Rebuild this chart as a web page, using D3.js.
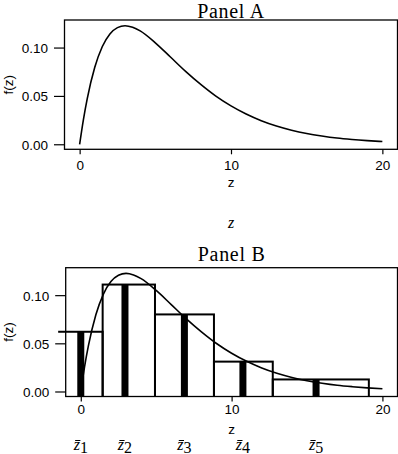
<!DOCTYPE html>
<html>
<head>
<meta charset="utf-8">
<script src="https://cdn.jsdelivr.net/npm/d3@7"></script>
<style>
  body { margin: 0; background: #fff; }
  .tick text, .axisText { font-family: "Liberation Sans", Arial, sans-serif; font-size: 13.5px; fill: #000; }
  .title { font-family: "Liberation Serif", "Times New Roman", serif; font-size: 20px; letter-spacing: 0.7px; fill: #000; }
  .serifItalic { font-family: "Liberation Serif", "Times New Roman", serif; font-style: italic; font-size: 16px; fill: #000; }
</style>
</head>
<body>
<div id="chart"></div>
<script>
// density curve, values
const curveZ = [0, 0.25, 0.5, 1, 1.5, 2, 2.5, 3, 3.5, 4, 5, 6, 7, 8, 9, 10, 11, 12, 13, 14, 15, 16, 17, 18, 19, 20];
const curveF = [0, 0.0256, 0.047, 0.0796, 0.1011, 0.1141, 0.1206, 0.1226, 0.121, 0.1172, 0.1049, 0.0902, 0.0754, 0.0619, 0.0498, 0.0397, 0.0313, 0.0244, 0.0189, 0.0146, 0.0112, 0.0086, 0.0065, 0.005, 0.0038, 0.0028];

// Panel B bins (edges in z) and their heights
const binEdges = [-3, 1.45, 4.92, 8.83, 12.73, 19.1];
const binHeights = [0.062, 0.111, 0.080, 0.031, 0.0125];
// representative points z-bar
const zBar = [0, 2.93, 6.87, 10.75, 15.6];
const zBarLabels = ["1", "2", "3", "4", "5"];

const xTicks = [0, 10, 20];
const yTicks = [0, 0.05, 0.10];

const width = 398, height = 454;
const svg = d3.select('#chart').append('svg')
    .attr('width', width)
    .attr('height', height);

const points = curveZ.map((z, i) => ({z: z, f: curveF[i]}));

function drawPanel(cfg) {
    const x = d3.scaleLinear().domain([-1, 21]).range([cfg.left, cfg.right]);
    const y = d3.scaleLinear().domain([-0.0052, 0.1285]).range([cfg.bottom, cfg.top]);
    const g = svg.append('g');

    // y axis
    const yAxis = d3.axisLeft(y).tickValues(yTicks).tickFormat(d3.format('.2f'))
        .tickSize(10.5).tickPadding(6);
    g.append('g').attr('transform', `translate(${cfg.left},0)`).call(yAxis)
        .call(a => a.select('.domain').remove())
        .selectAll('text').attr('dy', '0.36em');

    // x axis
    const xAxis = d3.axisBottom(x).tickValues(xTicks).tickSize(5).tickPadding(cfg.xPad);
    g.append('g').attr('transform', `translate(0,${cfg.bottom})`).call(xAxis)
        .call(a => a.select('.domain').remove());

    g.selectAll('.tick line').attr('stroke', '#000').attr('stroke-width', 1.2);
    g.selectAll('.tick text').attr('font-size', null);

    // axis titles
    g.append('text').attr('class', 'axisText')
        .attr('x', x(10)).attr('y', cfg.xLabelY)
        .attr('text-anchor', 'middle').attr('dy', '0.3em').text('z');
    g.append('text').attr('class', 'axisText')
        .attr('transform', `translate(8,${(cfg.top + cfg.bottom) / 2}) rotate(-90)`)
        .attr('text-anchor', 'middle').attr('dy', '0.35em').text('f(z)');

    // panel title
    g.append('text').attr('class', 'title')
        .attr('x', x(10)).attr('y', cfg.titleY)
        .attr('text-anchor', 'middle')
        .text(cfg.title);

    return {g, x, y};
}

const line = (x, y) => d3.line().x(d => x(d.z)).y(d => y(d.f)).curve(d3.curveMonotoneX);

// ---- Panel A ----
const A = drawPanel({left: 64.5, right: 397.5, top: 20, bottom: 149.3, xPad: 6, xLabelY: 182.7, titleY: 17.5, title: 'Panel A'});
A.g.append('path').datum(points)
    .attr('fill', 'none').attr('stroke', '#000').attr('stroke-width', 1.6)
    .attr('d', line(A.x, A.y));
A.g.append('rect')
    .attr('x', 64.5).attr('y', 20).attr('width', 333).attr('height', 129.3)
    .attr('fill', 'none').attr('stroke', '#000').attr('stroke-width', 1.3);

// italic z between panels
svg.append('text').attr('class', 'serifItalic')
    .attr('x', A.x(10)).attr('y', 223).attr('dy', '0.3em')
    .attr('text-anchor', 'middle').text('z');

// ---- Panel B ----
const B = drawPanel({left: 65.7, right: 397.5, top: 267.7, bottom: 396.5, xPad: 3, xLabelY: 430, titleY: 261, title: 'Panel B'});

svg.append('clipPath').attr('id', 'binClip')
    .append('rect')
    .attr('x', B.x(-1.5)).attr('y', 0)
    .attr('width', B.x(21) - B.x(-1.5)).attr('height', 396.5);

const bins = binHeights.map((h, i) => ({x0: binEdges[i], x1: binEdges[i + 1], h: h}));

B.g.append('g').attr('clip-path', 'url(#binClip)')
    .selectAll('rect').data(bins).join('rect')
    .attr('x', d => B.x(d.x0))
    .attr('y', d => B.y(d.h))
    .attr('width', d => B.x(d.x1) - B.x(d.x0))
    .attr('height', d => 400 - B.y(d.h))
    .attr('fill', 'none').attr('stroke', '#000').attr('stroke-width', 2);

B.g.append('path').datum(points)
    .attr('fill', 'none').attr('stroke', '#000').attr('stroke-width', 1.6)
    .attr('d', line(B.x, B.y));

B.g.selectAll('.zbar').data(zBar).join('rect')
    .attr('class', 'zbar')
    .attr('x', d => B.x(d) - 3.5)
    .attr('y', (d, i) => B.y(binHeights[i]))
    .attr('width', 7)
    .attr('height', (d, i) => 396.5 - B.y(binHeights[i]))
    .attr('fill', '#000');

B.g.append('rect')
    .attr('x', 65.7).attr('y', 267.7).attr('width', 331.8).attr('height', 128.8)
    .attr('fill', 'none').attr('stroke', '#000').attr('stroke-width', 1.3);

// z-bar labels under the axis: italic z with a bar over it, subscript index
const lab = svg.selectAll('.zlab').data(zBar).join('text')
    .attr('class', 'zlab serifItalic')
    .attr('x', d => B.x(d))
    .attr('y', 450)
    .attr('text-anchor', 'middle');
lab.append('tspan').text('z');
lab.append('tspan').attr('dy', 2.5).style('font-style', 'normal').text((d, i) => zBarLabels[i]);

// overbar above each z glyph
lab.each(function() {
    const ext = this.getExtentOfChar(0);
    svg.append('line')
        .attr('x1', ext.x + 1.5).attr('x2', ext.x + ext.width + 0.5)
        .attr('y1', 440.5).attr('y2', 440.5)
        .attr('stroke', '#000').attr('stroke-width', 1);
});
</script>
</body>
</html>
